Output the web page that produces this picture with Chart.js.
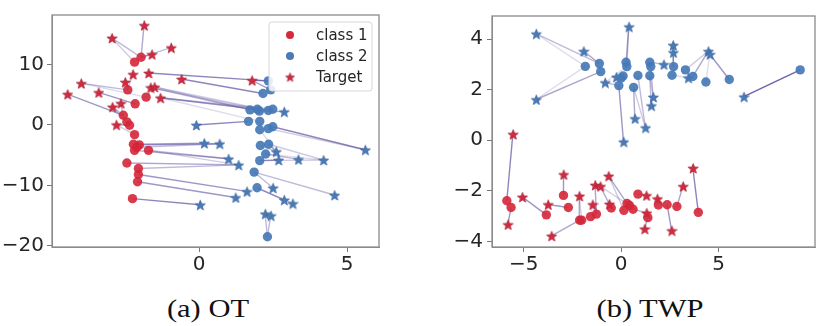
<!DOCTYPE html>
<html>
<head>
<meta charset="utf-8">
<script src="https://cdn.jsdelivr.net/npm/chart.js@4.4.1/dist/chart.umd.min.js"></script>
<style>
body{margin:0;background:#fff;width:821px;height:326px;position:relative;overflow:hidden;}
#wrapA{position:absolute;left:0;top:0;width:385px;height:285px;}
#wrapB{position:absolute;left:420px;top:0;width:401px;height:285px;}
.cap{position:absolute;top:296px;width:240px;text-align:center;font-family:"Liberation Serif","Times New Roman",serif;font-size:25px;line-height:25px;color:#111;transform:scaleX(1.22);}
</style>
</head>
<body>
<div id="wrapA"><canvas id="otCanvas" width="385" height="285"></canvas></div>
<div id="wrapB"><canvas id="twpCanvas" width="401" height="285"></canvas></div>
<div class="cap" style="left:88px">(a) OT</div>
<div class="cap" style="left:530px">(b) TWP</div>
<script>
// ---- panel (a) OT ----
var otClass1X = [-1.96,-2.18,-2.41,-1.79,-2.16,-2.56,-2.44,-2.35,-2.18,-2.22,-2.02,-2.18,-1.71,-2.10,-2.44,-2.05,-2.05,-2.08,-2.25];
var otClass1Y = [11.2,10.4,5.8,4.6,3.5,1.6,0.5,-0.05,-1.6,-3.2,-3.3,-4.2,-4.2,-3.7,-6.3,-7.2,-8.2,-9.4,-12.2];
var otClass2X = [2.34,2.42,2.16,1.72,1.97,2.04,2.34,2.49,1.67,2.05,2.05,2.34,2.49,2.07,2.35,2.25,2.05,1.86,1.96,2.31];
var otClass2Y = [7.3,5.8,5.2,2.5,2.6,2.3,2.4,2.6,0.6,0.6,-0.8,-0.6,-0.3,-3.4,-3.2,-4.8,-5.9,-7.8,-10.4,-18.5];
var otTarget1X = [-1.86,-2.95,-0.95,-1.60,-2.24,-2.50,-1.71,-0.60,-3.99,-3.40,-1.64,-1.51,-1.31,-4.45,-2.93,-2.65,-2.80,1.78];
var otTarget1Y = [16.5,14.4,12.8,11.7,8.4,7.1,8.6,7.6,6.9,5.4,6.2,6.3,4.5,5.1,3.0,3.6,0.05,7.4];
var otTarget2X = [2.87,-0.10,0.17,0.69,2.60,5.61,0.99,2.68,3.35,4.20,1.33,2.49,4.57,1.61,1.23,2.87,3.16,0.03,2.23,2.42];
var otTarget2Y = [2.2,0.0,-3.0,-3.1,-4.4,-4.1,-5.6,-5.8,-5.7,-5.8,-6.6,-10.4,-11.6,-11.0,-12.0,-12.4,-13.0,-13.2,-14.7,-15.0];
// links: source index (class1 then class2), target index (targets1 then targets2), weight
var otLinkFrom = [0,0,0,0,1,2,2,2,3,3,4,5,5,5,6,7,8,9,10,11,12,12,13,14,15,16,17,18,
  19,19,20,21,22,22,23,23,24,25,25,26,27,28,29,30,31,32,33,33,34,34,35,35,36,36,37,37,38,38];
var otLinkTo = [0,1,3,2,1,8,5,4,8,11,9,13,14,15,14,16,16,20,21,24,24,28,21,28,28,31,32,35,
  6,17,17,7,10,11,10,12,18,11,12,12,19,12,22,23,23,22,22,27,26,27,25,27,29,30,33,34,36,37];
var otLinkW = [.5,.4,.5,.4,.3,.4,.3,.3,.2,.2,.6,.6,.4,.4,.3,.5,.3,.5,.6,.5,.4,.3,.4,.5,.4,.6,.6,.7,
  .7,.6,.6,.7,.4,.3,.3,.3,.5,.3,.5,.3,.7,.2,.2,.3,.7,.3,.5,.3,.4,.2,.6,.3,.4,.4,.5,.4,.4,.4];

// ---- panel (b) TWP ----
var twpClass1X = [-5.87,-5.65,-3.84,-2.96,-2.71,-2.13,-2.03,-1.57,-1.27,-0.51,0.14,0.30,0.43,0.61,0.86,1.37,1.91,2.36,2.86,3.96];
var twpClass1Y = [-2.39,-2.66,-2.95,-2.18,-2.66,-3.16,-3.16,-3.02,-2.92,-2.68,-2.77,-2.50,-2.58,-2.73,-2.13,-3.06,-2.56,-2.55,-2.62,-2.85];
var twpClass2X = [-1.84,-1.12,-1.05,-0.12,0.25,0.29,0.10,0.00,0.64,0.86,1.47,1.52,1.47,2.69,2.61,3.30,3.68,4.35,5.55,9.19];
var twpClass2Y = [2.92,3.03,2.71,2.16,3.08,2.91,2.54,2.46,2.09,2.56,3.08,2.91,2.55,2.91,2.57,2.78,2.52,2.30,2.40,2.78];
var twpTarget1X = [-5.56,-5.82,-5.08,-3.76,-3.58,-2.96,-2.15,-1.47,-1.34,-1.07,-0.65,-0.61,1.29,1.85,1.30,1.20,2.59,3.17,3.68];
var twpTarget1Y = [0.24,-3.33,-2.24,-2.54,-3.78,-1.35,-2.20,-2.54,-1.77,-1.82,-1.41,-2.52,-2.18,-2.31,-2.87,-3.50,-3.57,-1.82,-1.10];
var twpTarget2X = [-4.37,-1.93,-4.37,-0.83,-0.25,0.39,0.12,0.70,1.24,1.64,1.54,2.18,2.66,2.67,3.44,4.47,4.55,6.29];
var twpTarget2Y = [4.21,3.52,1.61,2.28,2.50,4.49,-0.06,0.86,0.50,1.71,1.37,3.00,3.76,3.47,2.47,3.52,3.40,1.72];
var twpLinkFrom = [0,1,2,3,4,5,5,6,7,8,8,9,9,10,11,12,13,14,15,15,16,17,18,19,
  20,20,21,21,22,23,23,24,25,25,26,27,28,28,29,30,31,32,32,33,33,34,35,36,37,38,39];
var twpLinkTo = [0,1,2,5,3,6,4,6,7,8,7,9,11,10,10,9,14,12,14,15,13,16,17,18,
  19,21,20,19,21,22,25,24,24,22,23,23,26,27,27,30,28,29,28,31,32,33,34,34,35,35,36];
var twpLinkW = [.7,.6,.6,.6,.6,.5,.5,.3,.2,.5,.5,.5,.4,.3,.5,.3,.4,.5,.5,.5,.4,.6,.5,.7,
  .2,.2,.5,.4,.5,.4,.6,.5,.4,.2,.4,.3,.5,.3,.4,.4,.4,.4,.3,.5,.5,.2,.3,.5,.2,.6,.9];

var legendLabels = ['class 1','class 2','Target'];

var RED = '#d42a3c';
var BLUE = '#4a7bb7';

// filled five point star used as point style
function makeStar(fill, edge, size){
  var c = document.createElement('canvas');
  c.width = size*2+2; c.height = size*2+2;
  var g = c.getContext('2d');
  g.beginPath();
  for(var i=0;i<10;i++){
    var r = (i%2==0) ? size : size*0.42;
    var a = -Math.PI/2 + i*Math.PI/5;
    var px = size+1 + r*Math.cos(a), py = size+1.5 + r*Math.sin(a);
    if(i==0) g.moveTo(px,py); else g.lineTo(px,py);
  }
  g.closePath();
  g.fillStyle = fill; g.fill();
  g.strokeStyle = edge; g.lineWidth = 0.8; g.stroke();
  return c;
}
var starRed = makeStar(RED,'#a8203a',5.3);
var starBlue = makeStar(BLUE,'#3b679f',5.3);
var starLegend = makeStar(RED,'#a8203a',4.6);

function pts(xs, ys){
  var out = [];
  for(var i=0;i<xs.length;i++) out.push({x:xs[i], y:ys[i]});
  return out;
}

function minusSign(v){ return String(v).replace('-', '\u2212'); }

// frame round the plot + optional legend inside
var framePlugin = {
  id:'frame',
  afterDraw: function(chart, args, opts){
    var a = chart.chartArea, ctx = chart.ctx;
    ctx.save();
    ctx.strokeStyle = '#8a8a8a';
    ctx.lineWidth = 1.3;
    ctx.strokeRect(a.left, a.top, a.right-a.left, a.bottom-a.top);
    if(opts.legend){
      var bx = a.right-110, by = a.top+7, bw = 103, bh = 69;
      ctx.fillStyle = 'rgba(255,255,255,0.85)';
      ctx.strokeStyle = '#d6d6d6';
      ctx.lineWidth = 1;
      ctx.beginPath();
      ctx.roundRect(bx, by, bw, bh, 3);
      ctx.fill(); ctx.stroke();
      var styles = [{pointStyle:'circle', color:RED},
                    {pointStyle:'circle', color:BLUE},
                    {pointStyle:starLegend, color:RED}];
      ctx.font = '15px "DejaVu Sans"';
      ctx.textBaseline = 'middle';
      for(var i=0;i<legendLabels.length;i++){
        var cy = by + 13 + i*21;
        ctx.fillStyle = styles[i].color;
        ctx.strokeStyle = styles[i].color;
        Chart.helpers.drawPoint(ctx, {pointStyle:styles[i].pointStyle, radius:4, borderWidth:0}, bx+21, cy);
        ctx.fillStyle = '#262626';
        ctx.fillText(legendLabels[i], bx+47, cy+1);
      }
    }
    ctx.restore();
  }
};

function makePanel(canvasId, d){
  var src = pts(d.c1x, d.c1y).concat(pts(d.c2x, d.c2y));
  var tgt = pts(d.t1x, d.t1y).concat(pts(d.t2x, d.t2y));
  var datasets = [];
  for(var i=0;i<d.from.length;i++){
    datasets.push({
      data:[src[d.from[i]], tgt[d.to[i]]],
      showLine:true,
      borderColor:'rgba(92,82,160,'+d.w[i]+')',
      borderWidth:1.4,
      pointRadius:0,
      order:5
    });
  }
  datasets.push({data:pts(d.t1x,d.t1y), pointStyle:starRed, pointRadius:5, order:2});
  datasets.push({data:pts(d.t2x,d.t2y), pointStyle:starBlue, pointRadius:5, order:2});
  datasets.push({data:pts(d.c1x,d.c1y), pointStyle:'circle', pointRadius:4.7, borderWidth:0,
    backgroundColor:'rgba(212,38,56,0.9)', order:1});
  datasets.push({data:pts(d.c2x,d.c2y), pointStyle:'circle', pointRadius:4.7, borderWidth:0,
    backgroundColor:'rgba(70,120,182,0.92)', order:1});

  var tickFont = {family:'DejaVu Sans', size:20};
  return new Chart(document.getElementById(canvasId), {
    type:'scatter',
    data:{datasets:datasets},
    options:{
      responsive:false,
      animation:false,
      layout:{padding:{top:4, right:d.padRight, left:0, bottom:0}},
      plugins:{legend:{display:false}, tooltip:{enabled:false}, frame:{legend:d.legend}},
      scales:{
        x:{
          type:'linear', min:d.xmin, max:d.xmax,
          ticks:{stepSize:5, includeBounds:false, font:tickFont, color:'#262626', padding:1, maxRotation:0, callback:minusSign},
          grid:{drawOnChartArea:false, drawTicks:true, tickLength:5, tickColor:'#777'},
          border:{color:'#8a8a8a'},
          afterFit:function(s){ s.height = 38; }
        },
        y:{
          type:'linear', min:d.ymin, max:d.ymax,
          ticks:{stepSize:d.ystep, includeBounds:false, font:tickFont, color:'#262626', padding:d.yPad, callback:minusSign},
          grid:{drawOnChartArea:false, drawTicks:true, tickLength:5, tickColor:'#777'},
          border:{color:'#8a8a8a'},
          afterFit:function(s){ s.width = d.yWidth; }
        }
      }
    },
    plugins:[framePlugin]
  });
}

makePanel('otCanvas', {
  c1x:otClass1X, c1y:otClass1Y, c2x:otClass2X, c2y:otClass2Y,
  t1x:otTarget1X, t1y:otTarget1Y, t2x:otTarget2X, t2y:otTarget2Y,
  from:otLinkFrom, to:otLinkTo, w:otLinkW,
  xmin:-4.97, xmax:6.08, ymin:-20.2, ymax:18.2, ystep:10,
  yWidth:52, yPad:3, padRight:6, legend:true
});

makePanel('twpCanvas', {
  c1x:twpClass1X, c1y:twpClass1Y, c2x:twpClass2X, c2y:twpClass2Y,
  t1x:twpTarget1X, t1y:twpTarget1Y, t2x:twpTarget2X, t2y:twpTarget2Y,
  from:twpLinkFrom, to:twpLinkTo, w:twpLinkW,
  xmin:-6.63, xmax:9.95, ymin:-4.22, ymax:4.91, ystep:2,
  yWidth:72, yPad:4, padRight:3, legend:false
});
</script>
</body>
</html>
